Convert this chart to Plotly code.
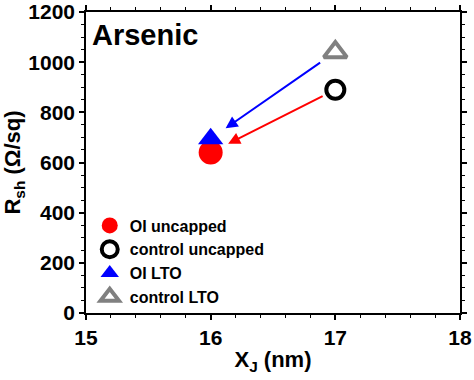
import plotly.graph_objects as go

# Data
names = ["OI uncapped", "control uncapped", "OI LTO", "control LTO"]
xj = [16, 17, 16, 17]
rsh = [640, 890, 695, 1040]

FONT = "Liberation Sans"

styles = [
    dict(symbol="circle", size=24, color="#FF0000", line=dict(width=0)),
    dict(symbol="circle-open", size=18, color="#000000", line=dict(width=4)),
    dict(symbol="triangle-up", size=22, color="#0000FF", line=dict(width=0)),
    dict(symbol="triangle-up-open", size=20, color="#808080", line=dict(width=4)),
]

fig = go.Figure()
for i in range(4):
    fig.add_trace(go.Scatter(x=[xj[i]], y=[rsh[i]], mode="markers", name="<b>" + names[i] + "</b>",
                             marker=styles[i], showlegend=True))

# Arrows from control to OI
def arrow(src, dst, color, t0, t1):
    x0 = xj[src] + (xj[dst] - xj[src]) * t0
    y0 = rsh[src] + (rsh[dst] - rsh[src]) * t0
    x1 = xj[src] + (xj[dst] - xj[src]) * t1
    y1 = rsh[src] + (rsh[dst] - rsh[src]) * t1
    fig.add_annotation(x=x1, y=y1, ax=x0, ay=y0, xref="x", yref="y", axref="x", ayref="y",
                       text="", showarrow=True, arrowhead=2, arrowsize=1.2, arrowwidth=2,
                       arrowcolor=color)

arrow(3, 2, "#0000FF", 0.11, 0.88)
arrow(1, 0, "#FF0000", 0.09, 0.86)

fig.add_annotation(x=0.012, y=0.985, xref="paper", yref="paper", xanchor="left", yanchor="top",
                   text="<b>Arsenic</b>", showarrow=False,
                   font=dict(family=FONT, size=29, color="black"))

axis_common = dict(showline=True, linecolor="black", linewidth=1.5, mirror="ticks",
                   ticks="outside", ticklen=5, tickwidth=1.5, tickcolor="black",
                   showgrid=False, zeroline=False, automargin=False,
                   ticklabeloverflow="allow",
                   tickfont=dict(family=FONT, size=21, color="black"))

fig.update_xaxes(range=[15, 18], dtick=1, tick0=15,
                 minor=dict(dtick=0.2, ticklen=3, tickwidth=1, tickcolor="black", ticks="outside"),
                 title=dict(text="<b>X<sub>J</sub> (nm)</b>", font=dict(family=FONT, size=22, color="black"),
                            standoff=4),
                 tickprefix="<b>", ticksuffix="</b>", **axis_common)
fig.update_yaxes(range=[0, 1200], dtick=200, tick0=0,
                 minor=dict(dtick=50, ticklen=3, tickwidth=1, tickcolor="black", ticks="outside"),
                 title=dict(text="<b>R<sub>sh</sub> (Ω/sq)</b>", font=dict(family=FONT, size=22, color="black"),
                            standoff=4),
                 tickprefix="<b>", ticksuffix="</b>", **axis_common)

fig.update_layout(
    width=474, height=380,
    margin=dict(l=86, r=14, t=12, b=67, autoexpand=False),
    plot_bgcolor="white", paper_bgcolor="white",
    legend=dict(x=0.01, y=-0.005, xanchor="left", yanchor="bottom", bgcolor="rgba(0,0,0,0)",
                font=dict(family=FONT, size=16, color="black"), tracegroupgap=0,
                itemsizing="trace", itemwidth=30),
    font=dict(family=FONT),
)

# Remove the default page margin so the figure fills the window exactly.
fig.write_html("out.html", config={"displayModeBar": False},
               post_script="document.body.style.margin='0';")
